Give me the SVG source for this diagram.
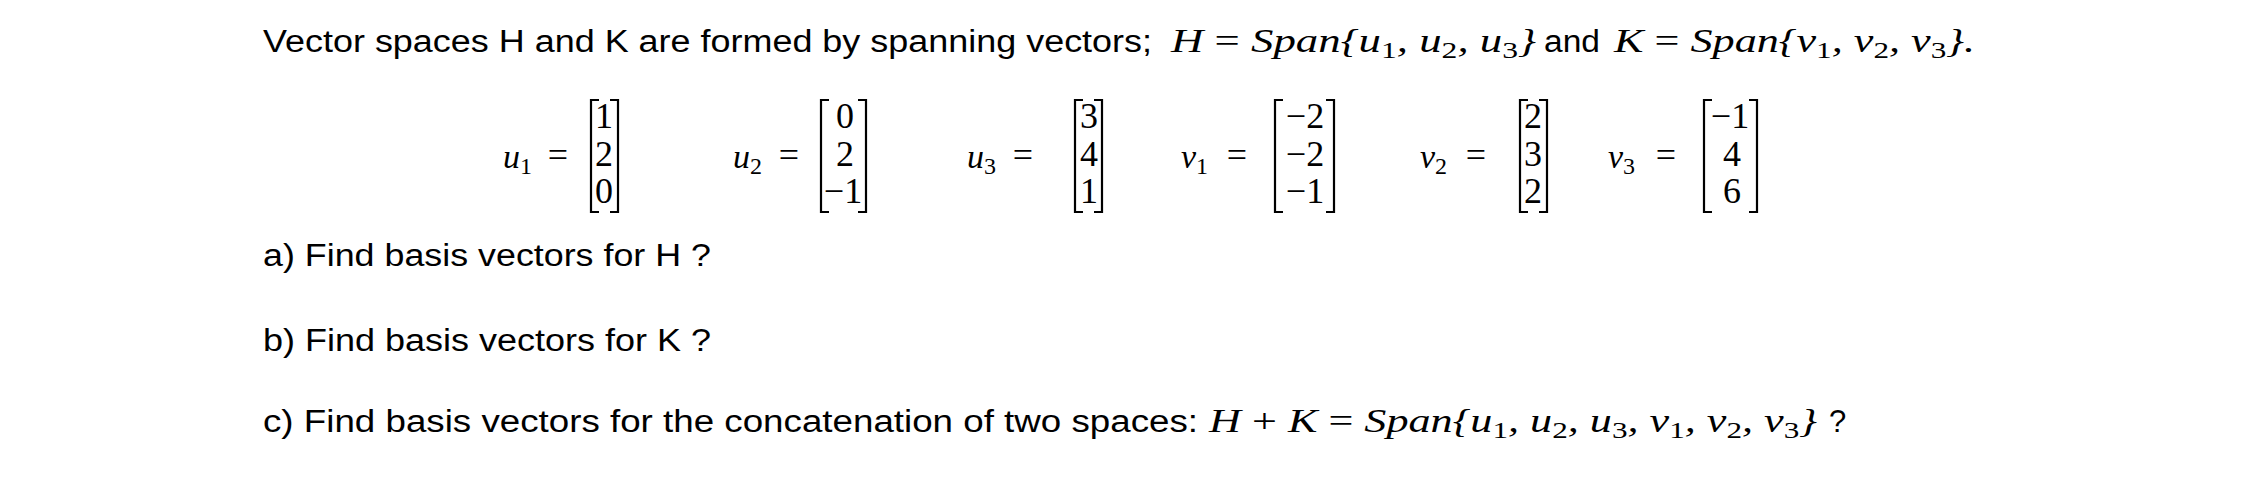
<svg xmlns="http://www.w3.org/2000/svg" width="2244" height="478" viewBox="0 0 2244 478">
<style>
.t{font-family:"Liberation Sans",Arial,sans-serif;font-size:31px;fill:#000}
.m{font-family:"Liberation Serif","Times New Roman",serif;font-style:italic;font-size:34px;fill:#000}
.n{font-family:"Liberation Serif","Times New Roman",serif;font-size:36px;fill:#000;text-anchor:middle}
.s{font-size:24px;font-style:normal}
.b{fill:none;stroke:#000;stroke-width:2.2}
</style>
<rect width="2244" height="478" fill="#fff"/>
<g id="line1">
<text class="t" x="263" y="52" textLength="889" lengthAdjust="spacingAndGlyphs">Vector spaces H and K are formed by spanning vectors;</text>
<text class="m" x="1171" y="52" textLength="365" lengthAdjust="spacingAndGlyphs">H <tspan font-style="normal">=</tspan> Span{u<tspan class="s" dy="6">1</tspan><tspan dy="-6">, u</tspan><tspan class="s" dy="6">2</tspan><tspan dy="-6">, u</tspan><tspan class="s" dy="6">3</tspan><tspan dy="-6">}</tspan></text>
<text class="t" x="1544" y="52" textLength="56" lengthAdjust="spacingAndGlyphs">and</text>
<text class="m" x="1614" y="52" textLength="361" lengthAdjust="spacingAndGlyphs">K <tspan font-style="normal">=</tspan> Span{v<tspan class="s" dy="6">1</tspan><tspan dy="-6">, v</tspan><tspan class="s" dy="6">2</tspan><tspan dy="-6">, v</tspan><tspan class="s" dy="6">3</tspan><tspan dy="-6">}.</tspan></text>
</g>
<g id="vectors">
<g id="u1"><text class="m" x="503" y="168">u<tspan class="s" dy="6">1</tspan></text><text class="n" x="558" y="167">=</text>
<path class="b" d="M599,100 H591 V212 H599 M610,100 H618 V212 H610"/>
<text class="n" x="604" y="128">1</text><text class="n" x="604" y="166">2</text><text class="n" x="604" y="203">0</text></g>
<g id="u2"><text class="m" x="733" y="168">u<tspan class="s" dy="6">2</tspan></text><text class="n" x="789" y="167">=</text>
<path class="b" d="M829,100 H821 V212 H829 M858,100 H866 V212 H858"/>
<text class="n" x="845" y="128">0</text><text class="n" x="845" y="166">2</text><text class="n" x="843" y="203">−1</text></g>
<g id="u3"><text class="m" x="967" y="168">u<tspan class="s" dy="6">3</tspan></text><text class="n" x="1023" y="167">=</text>
<path class="b" d="M1083,100 H1075 V212 H1083 M1094,100 H1102 V212 H1094"/>
<text class="n" x="1089" y="128">3</text><text class="n" x="1089" y="166">4</text><text class="n" x="1089" y="203">1</text></g>
<g id="v1"><text class="m" x="1181" y="168">v<tspan class="s" dy="6">1</tspan></text><text class="n" x="1237" y="167">=</text>
<path class="b" d="M1283,100 H1275 V212 H1283 M1326,100 H1334 V212 H1326"/>
<text class="n" x="1305" y="128">−2</text><text class="n" x="1305" y="166">−2</text><text class="n" x="1305" y="203">−1</text></g>
<g id="v2"><text class="m" x="1420" y="168">v<tspan class="s" dy="6">2</tspan></text><text class="n" x="1476" y="167">=</text>
<path class="b" d="M1528,100 H1520 V212 H1528 M1539,100 H1547 V212 H1539"/>
<text class="n" x="1533" y="128">2</text><text class="n" x="1533" y="166">3</text><text class="n" x="1533" y="203">2</text></g>
<g id="v3"><text class="m" x="1608" y="168">v<tspan class="s" dy="6">3</tspan></text><text class="n" x="1666" y="167">=</text>
<path class="b" d="M1712,100 H1704 V212 H1712 M1749,100 H1757 V212 H1749"/>
<text class="n" x="1730" y="128">−1</text><text class="n" x="1732" y="166">4</text><text class="n" x="1732" y="203">6</text></g>
</g>
<g id="questions">
<text class="t" x="263" y="266" textLength="448" lengthAdjust="spacingAndGlyphs">a) Find basis vectors for H ?</text>
<text class="t" x="263" y="351" textLength="448" lengthAdjust="spacingAndGlyphs">b) Find basis vectors for K ?</text>
<text class="t" x="263" y="432" textLength="935" lengthAdjust="spacingAndGlyphs">c) Find basis vectors for the concatenation of two spaces:</text>
<text class="m" x="1209" y="432" textLength="608" lengthAdjust="spacingAndGlyphs">H <tspan font-style="normal">+</tspan> K <tspan font-style="normal">=</tspan> Span{u<tspan class="s" dy="6">1</tspan><tspan dy="-6">, u</tspan><tspan class="s" dy="6">2</tspan><tspan dy="-6">, u</tspan><tspan class="s" dy="6">3</tspan><tspan dy="-6">, v</tspan><tspan class="s" dy="6">1</tspan><tspan dy="-6">, v</tspan><tspan class="s" dy="6">2</tspan><tspan dy="-6">, v</tspan><tspan class="s" dy="6">3</tspan><tspan dy="-6">}</tspan></text>
<text class="t" x="1829" y="432">?</text>
</g>
</svg>
